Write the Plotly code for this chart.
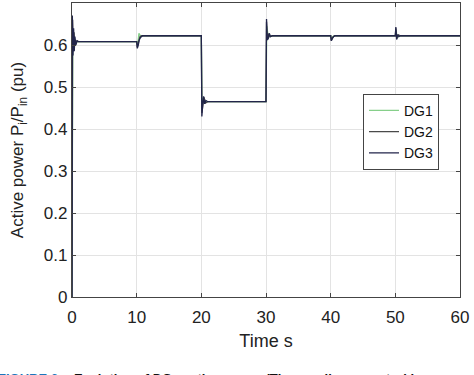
import plotly.graph_objects as go

# Time (s) and active power ratio (pu) for each DG
t_dg1 = [0, 0.05, 0.12, 0.25, 0.4, 0.6, 0.9, 10.0, 10.15, 10.35, 10.6, 11.0,
         20.0, 20.1, 20.3, 20.55, 20.9, 30.0, 30.12, 30.3, 30.5, 30.9,
         40.0, 40.12, 40.35, 40.7, 50.0, 50.1, 50.3, 50.6, 60.0]
p_dg1 = [0, 0.45, 0.63, 0.595, 0.612, 0.606, 0.608, 0.608, 0.6, 0.628, 0.621, 0.622,
         0.622, 0.448, 0.474, 0.463, 0.465, 0.465, 0.645, 0.625, 0.62, 0.622,
         0.622, 0.613, 0.62, 0.622, 0.622, 0.636, 0.617, 0.622, 0.622]

t_dg2 = [0, 0.04, 0.1, 0.2, 0.32, 0.45, 0.65, 0.95, 10.0, 10.1, 10.28, 10.5, 10.8,
         20.0, 20.08, 20.22, 20.4, 20.65, 21.0, 30.0, 30.08, 30.2, 30.38, 30.6, 31.0,
         40.0, 40.1, 40.3, 40.6, 50.0, 50.08, 50.22, 50.45, 50.8, 60.0]
p_dg2 = [0, 0.6, 0.66, 0.585, 0.63, 0.598, 0.61, 0.608, 0.608, 0.595, 0.61, 0.62, 0.622,
         0.622, 0.438, 0.462, 0.476, 0.462, 0.465, 0.465, 0.655, 0.614, 0.627, 0.62, 0.622,
         0.622, 0.611, 0.618, 0.622, 0.622, 0.64, 0.615, 0.624, 0.622, 0.622]

t_dg3 = [0, 0.05, 0.15, 0.25, 0.35, 0.45, 0.6, 0.8, 1.0, 10.0, 10.1, 10.25, 10.4, 10.6,
         10.9, 20.0, 20.08, 20.2, 20.35, 20.5, 20.7, 21.0, 30.0, 30.08, 30.2, 30.35,
         30.5, 30.7, 31.0, 40.0, 40.1, 40.25, 40.45, 40.7, 50.0, 50.08, 50.2, 50.35,
         50.55, 50.8, 60.0]
p_dg3 = [0, 0.67, 0.575, 0.64, 0.585, 0.62, 0.6, 0.61, 0.608, 0.608, 0.592, 0.6, 0.612, 0.618,
         0.622, 0.622, 0.43, 0.455, 0.478, 0.46, 0.468, 0.465, 0.465, 0.662, 0.612, 0.615,
         0.628, 0.62, 0.622, 0.622, 0.61, 0.615, 0.62, 0.622, 0.622, 0.643, 0.613, 0.625,
         0.62, 0.622, 0.622]

x_ticks = [0, 10, 20, 30, 40, 50, 60]
y_ticks = [0, 0.1, 0.2, 0.3, 0.4, 0.5, 0.6]

FONT = "Liberation Sans, Arial, sans-serif"

fig = go.Figure()
fig.add_trace(go.Scatter(x=t_dg1, y=p_dg1, mode="lines", name="DG1",
                         line=dict(color="#86cf8a", width=1.3)))
fig.add_trace(go.Scatter(x=t_dg2, y=p_dg2, mode="lines", name="DG2",
                         line=dict(color="#4a4a4a", width=1.3)))
fig.add_trace(go.Scatter(x=t_dg3, y=p_dg3, mode="lines", name="DG3",
                         line=dict(color="#22254a", width=1.3)))

axis_common = dict(
    showline=True, linecolor="#444444", linewidth=1.2, mirror="allticks",
    ticks="inside", ticklen=4, tickcolor="#444444",
    showgrid=True, gridcolor="#e3e3e3", gridwidth=1, automargin=False,
    zeroline=False, tickfont=dict(family=FONT, size=17, color="#222222"),
)

fig.update_layout(
    width=474, height=375,
    margin=dict(l=72, r=14, t=3, b=78),
    paper_bgcolor="white", plot_bgcolor="white",
    font=dict(family=FONT, color="#222222"),
    xaxis=dict(range=[0, 60], tickvals=x_ticks, ticktext=[str(v) for v in x_ticks],
               ticklabelstandoff=4,
               title=dict(text="Time s", font=dict(size=18), standoff=8),
               **axis_common),
    yaxis=dict(range=[0, 0.7], tickvals=y_ticks,
               ticktext=["0", "0.1", "0.2", "0.3", "0.4", "0.5", "0.6"],
               title=dict(text="Active power P<sub>i</sub>/P<sub>in</sub> (pu)",
                          font=dict(size=17), standoff=15),
               **axis_common),
    showlegend=True,
    legend=dict(x=0.75, y=0.691, xanchor="left", yanchor="top",
                bgcolor="white", bordercolor="#444444", borderwidth=1,
                font=dict(family=FONT, size=14, color="#111111"),
                tracegroupgap=0, itemwidth=30),
    annotations=[
        dict(text="<b>FIGURE 6.</b>", xref="paper", yref="paper", x=-0.195, y=-0.245,
             xanchor="left", yanchor="top", showarrow=False,
             font=dict(family=FONT, size=13, color="#1b75bb")),
        dict(text="<b>Evolution of DGs active power (The non-linear control is</b>",
             xref="paper", yref="paper", x=0.0, y=-0.245,
             xanchor="left", yanchor="top", showarrow=False,
             font=dict(family=FONT, size=13, color="#111111")),
    ],
)

fig.write_html("out.html", config={"displayModeBar": False},
               post_script="document.body.style.margin='0';")
